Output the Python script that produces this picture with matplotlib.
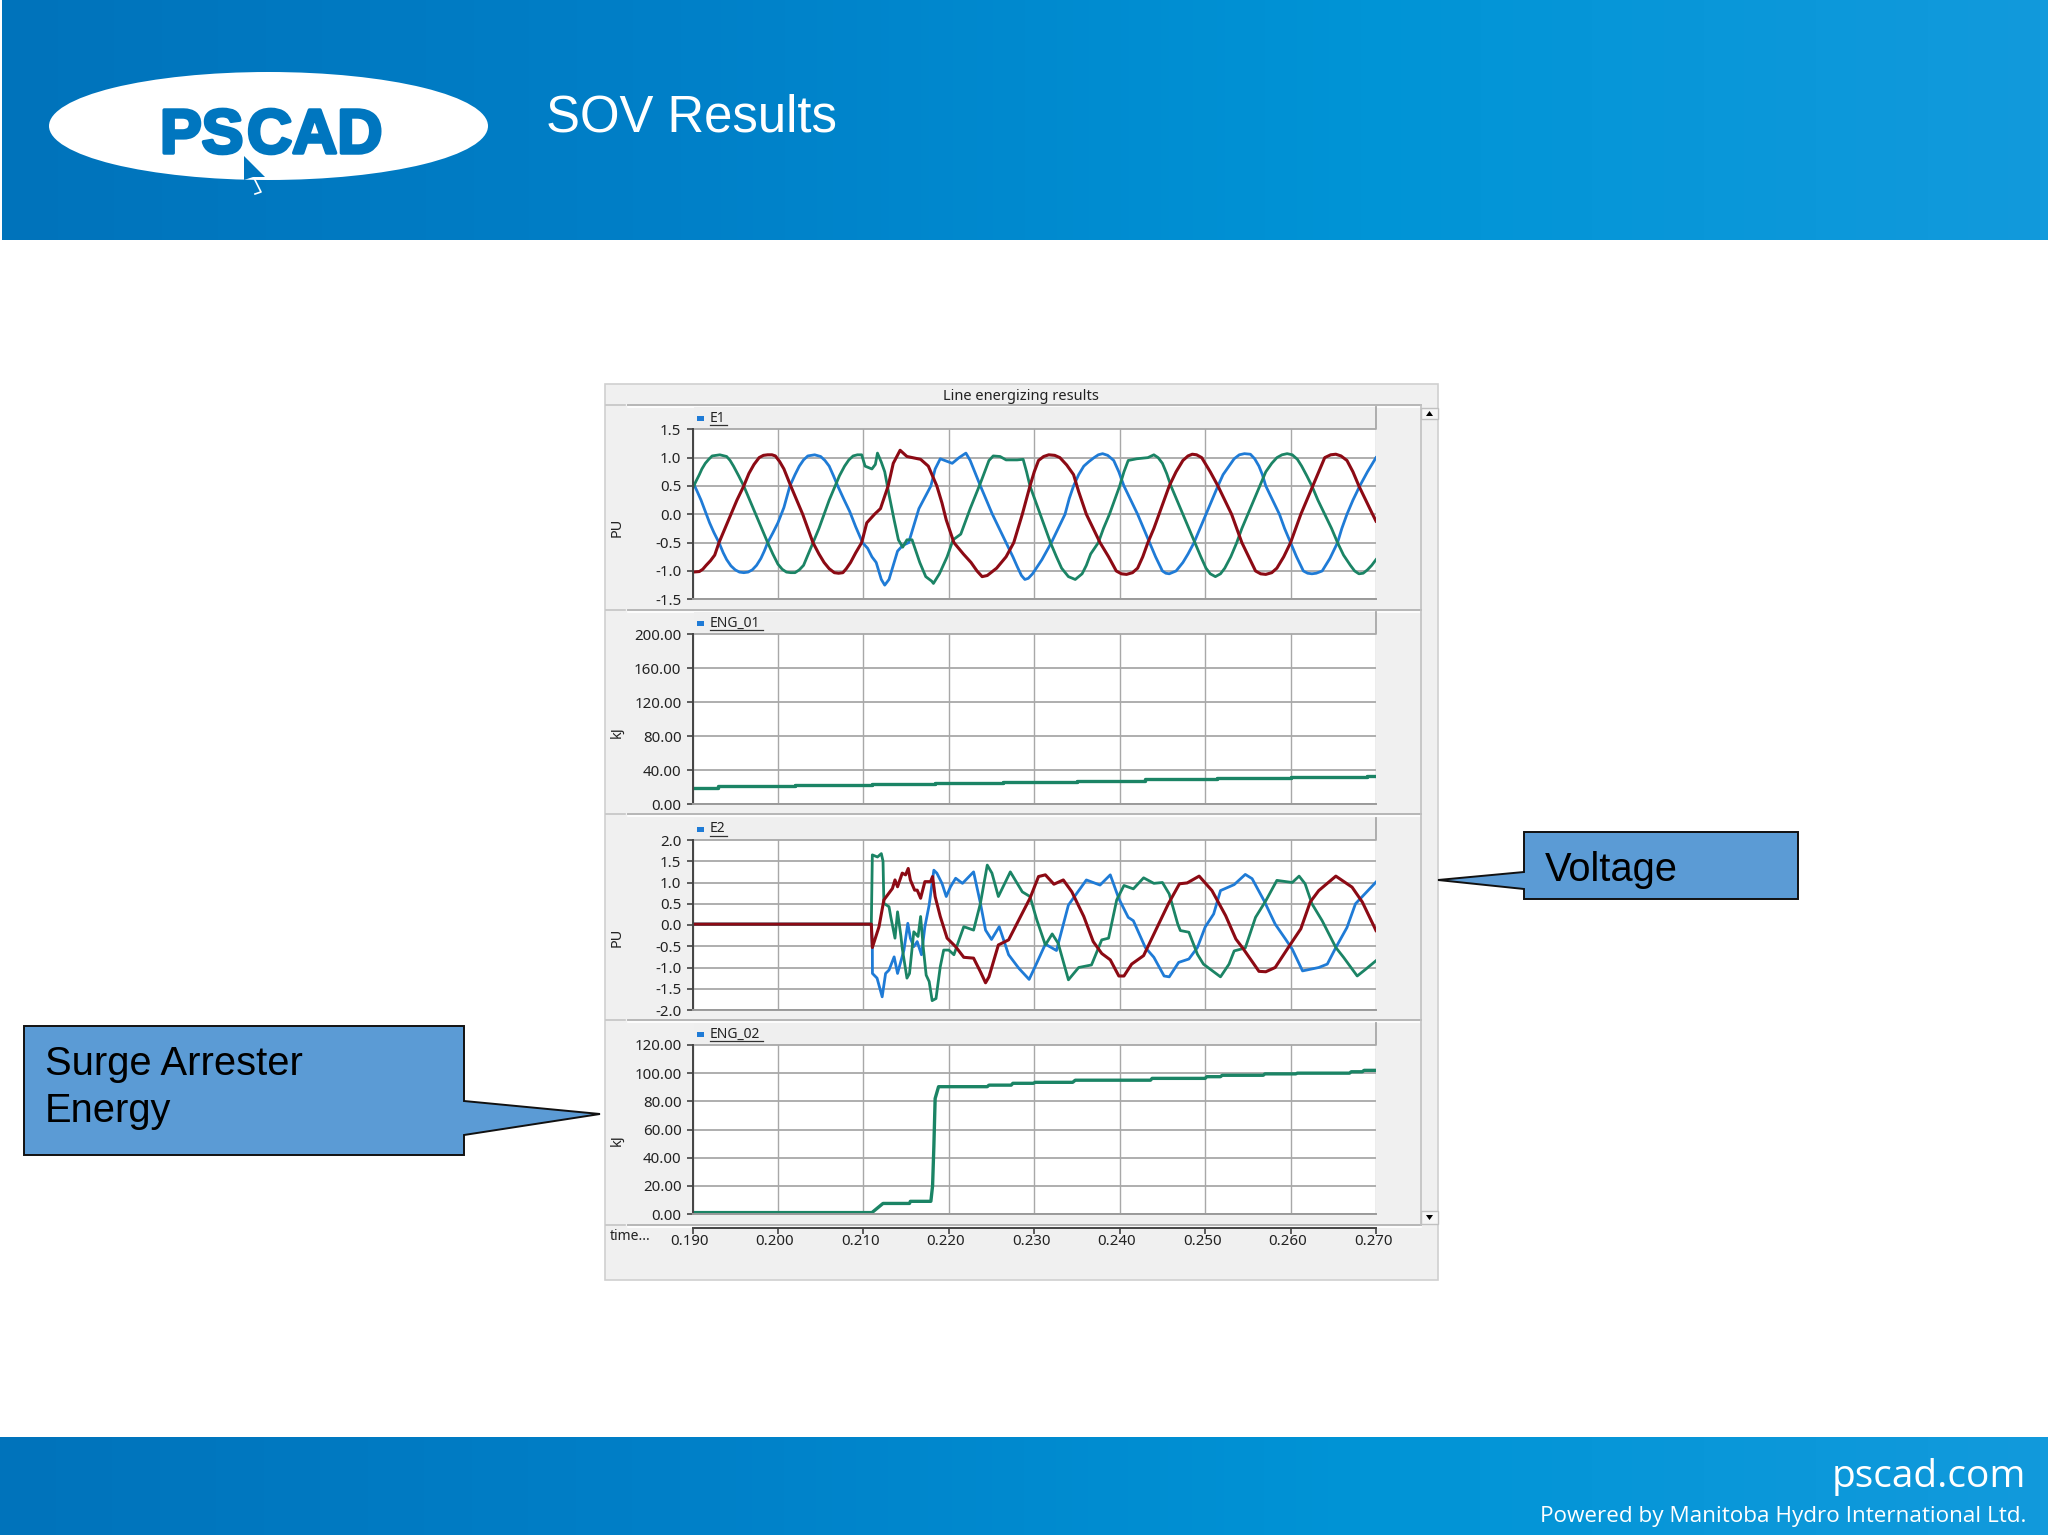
import numpy as np
import matplotlib
matplotlib.use("Agg")
import matplotlib.pyplot as plt
import matplotlib.patheffects as pe
from matplotlib.patches import Ellipse, Polygon, Rectangle
from matplotlib.colors import LinearSegmentedColormap
from matplotlib.transforms import ScaledTranslation

W, H = 2048, 1536

# ---- data (time in ms) ----
e1_blue_t = [190, 190.5, 191, 191.5, 192, 192.5, 193.1, 193.6, 194, 194.5, 195, 195.5, 196, 196.5, 197, 197.5, 198, 198.4, 198.8, 199.4, 200, 200.7, 201.4, 202, 202.5, 203, 203.5, 204.3, 205, 205.5, 206, 206.5, 207, 207.7, 208.4, 209.1, 209.9, 210.5, 211, 211.5, 212.1, 212.5, 213, 213.5, 214, 214.6, 215.3, 215.9, 216.5, 217.2, 217.9, 218.4, 219, 220.4, 221.2, 222, 222.5, 222.9, 223.7, 224.4, 225.1, 225.9, 226.7, 227.5, 228, 228.5, 228.9, 229.3, 229.8, 230.9, 232, 232.8, 233.6, 234.1, 234.6, 235.2, 235.8, 236.4, 237, 237.5, 238, 238.6, 239.3, 239.9, 240.5, 241.3, 242.1, 242.8, 243.5, 244.2, 245, 245.4, 245.8, 246.6, 247.4, 248, 248.7, 249.4, 250.1, 250.8, 251.5, 252.1, 252.8, 253.4, 254, 254.6, 255.3, 255.8, 256.3, 256.7, 257.1, 257.9, 258.7, 259.3, 260, 260.7, 261.5, 262, 262.5, 263, 263.7, 264.6, 265.5, 266, 266.6, 267.3, 268.1, 269, 270]
e1_blue_v = [0.58, 0.42, 0.25, 0.05, -0.15, -0.32, -0.5, -0.68, -0.8, -0.91, -0.98, -1.02, -1.03, -1.02, -0.98, -0.9, -0.78, -0.65, -0.5, -0.33, -0.15, 0.12, 0.5, 0.7, 0.85, 0.96, 1.03, 1.05, 1.02, 0.95, 0.85, 0.68, 0.5, 0.27, 0.05, -0.22, -0.5, -0.6, -0.75, -0.85, -1.15, -1.25, -1.15, -0.9, -0.65, -0.55, -0.5, -0.2, 0.1, 0.3, 0.5, 0.8, 0.98, 0.9, 1.0, 1.08, 0.95, 0.8, 0.5, 0.25, 0.0, -0.25, -0.5, -0.75, -0.92, -1.08, -1.15, -1.13, -1.05, -0.8, -0.5, -0.25, 0.0, 0.28, 0.5, 0.7, 0.85, 0.93, 1.0, 1.05, 1.07, 1.04, 0.95, 0.75, 0.5, 0.25, 0.0, -0.25, -0.5, -0.75, -1.0, -1.04, -1.05, -1.0, -0.85, -0.7, -0.5, -0.25, 0.0, 0.25, 0.5, 0.7, 0.85, 0.98, 1.05, 1.07, 1.06, 0.98, 0.85, 0.7, 0.5, 0.25, 0.0, -0.25, -0.5, -0.75, -1.0, -1.04, -1.05, -1.04, -1.0, -0.78, -0.5, -0.25, 0.0, 0.25, 0.5, 0.75, 1.0]
e1_green_t = [190, 190.4, 190.8, 191.1, 191.5, 191.9, 192.3, 193.2, 194, 194.4, 194.8, 195.4, 196, 196.7, 197.4, 198.1, 198.8, 199.4, 200, 200.5, 201, 201.5, 202, 202.5, 203, 203.5, 204.1, 204.8, 205.4, 206, 206.7, 207.2, 207.8, 208.3, 208.8, 209.3, 209.8, 210.2, 210.7, 211, 211.4, 211.65, 212.1, 212.5, 213, 213.6, 214.1, 214.6, 215.1, 215.7, 216.6, 217.3, 218, 218.2, 218.9, 219.8, 220.5, 221.4, 222.5, 223.7, 224.7, 225.2, 226, 226.7, 228, 228.7, 229.1, 229.5, 230.1, 230.7, 231.3, 231.9, 232.6, 233.2, 234, 234.8, 235.6, 236.1, 236.6, 237.5, 238.1, 238.8, 239.4, 240, 240.5, 241, 242, 243.3, 244, 244.5, 245, 245.5, 246, 246.7, 247.4, 248.1, 248.8, 249.5, 250.1, 250.6, 251.2, 251.8, 252.3, 253, 253.7, 254.3, 255, 255.7, 256.4, 257.1, 257.8, 258.4, 259, 259.6, 260.2, 260.8, 261.3, 261.9, 262.5, 263.2, 264, 264.8, 265.5, 266.2, 267, 267.5, 268, 268.5, 269, 269.5, 270]
e1_green_v = [0.45, 0.58, 0.7, 0.8, 0.9, 0.97, 1.03, 1.05, 1.02, 0.95, 0.85, 0.68, 0.5, 0.25, 0.0, -0.25, -0.5, -0.7, -0.88, -0.97, -1.02, -1.03, -1.03, -0.98, -0.9, -0.72, -0.5, -0.25, 0.0, 0.25, 0.5, 0.68, 0.85, 0.96, 1.03, 1.05, 1.05, 0.85, 0.82, 0.8, 0.88, 1.08, 0.92, 0.75, 0.35, -0.1, -0.45, -0.58, -0.45, -0.45, -0.85, -1.1, -1.18, -1.22, -1.05, -0.75, -0.45, -0.35, 0.1, 0.55, 0.95, 1.03, 1.02, 0.96, 0.96, 0.97, 0.75, 0.5, 0.25, 0.0, -0.25, -0.5, -0.75, -0.95, -1.1, -1.15, -1.05, -0.9, -0.7, -0.5, -0.25, 0.0, 0.25, 0.5, 0.75, 0.95, 0.98, 1.0, 1.05, 1.0, 0.9, 0.72, 0.5, 0.25, 0.0, -0.25, -0.5, -0.75, -0.95, -1.05, -1.1, -1.05, -0.95, -0.75, -0.5, -0.25, 0.0, 0.25, 0.5, 0.75, 0.9, 1.0, 1.05, 1.07, 1.05, 0.97, 0.85, 0.68, 0.5, 0.25, 0.0, -0.25, -0.5, -0.72, -0.9, -1.0, -1.05, -1.04, -0.98, -0.9, -0.8]
e1_red_t = [190, 190.8, 191.2, 191.6, 192.1, 192.6, 193.1, 193.8, 194.5, 195.2, 196, 196.6, 197.2, 197.8, 198.3, 198.8, 199.3, 199.7, 200.2, 200.7, 201.5, 202.2, 202.9, 203.5, 204.1, 204.8, 205.4, 206, 206.6, 207.1, 207.6, 208, 208.5, 209.1, 209.8, 210.4, 211.3, 212, 212.9, 213.5, 214.3, 215.1, 216.7, 217.6, 218.6, 219.2, 219.7, 220.6, 221.7, 222.6, 223.3, 223.9, 224.5, 225.6, 226.7, 227.6, 228.6, 229.5, 230, 230.5, 231.1, 231.7, 232.4, 233, 233.8, 234.6, 235.2, 236.1, 236.9, 237.7, 238.7, 239.6, 240.2, 240.8, 241.5, 242.1, 242.7, 243.3, 244, 244.6, 245.2, 245.8, 246.6, 247.4, 248, 248.5, 249, 249.6, 250.6, 251.5, 252.3, 253.1, 253.7, 254.3, 255.1, 255.9, 256.5, 257.1, 257.8, 258.4, 259.2, 260, 260.6, 261.2, 261.9, 262.6, 263.3, 264, 264.7, 265.3, 265.9, 266.6, 267.3, 268, 268.8, 269.6, 270]
e1_red_v = [-1.02, -1.01, -0.97, -0.9, -0.82, -0.72, -0.5, -0.25, 0.0, 0.25, 0.5, 0.72, 0.88, 1.0, 1.04, 1.05, 1.05, 1.03, 0.93, 0.8, 0.5, 0.25, 0.0, -0.25, -0.5, -0.7, -0.85, -0.96, -1.03, -1.04, -1.03, -0.96, -0.85, -0.68, -0.5, -0.15, 0.0, 0.1, 0.5, 0.9, 1.13, 1.02, 0.97, 0.85, 0.5, 0.2, -0.1, -0.5, -0.7, -0.85, -1.0, -1.1, -1.08, -0.95, -0.75, -0.5, 0.0, 0.5, 0.75, 0.95, 1.02, 1.05, 1.04, 1.0, 0.87, 0.7, 0.4, 0.0, -0.25, -0.5, -0.75, -1.0, -1.05, -1.06, -1.03, -0.95, -0.75, -0.5, -0.25, 0.0, 0.25, 0.5, 0.75, 0.95, 1.03, 1.06, 1.05, 1.0, 0.75, 0.5, 0.25, 0.0, -0.25, -0.5, -0.75, -1.0, -1.05, -1.06, -1.03, -0.95, -0.75, -0.5, -0.25, 0.0, 0.25, 0.5, 0.75, 1.0, 1.05, 1.06, 1.03, 0.95, 0.75, 0.5, 0.25, 0.0, -0.12]

eng1_t = [190, 193, 202, 211, 218.4, 226.3, 235, 243, 251.4, 260, 269, 270]
eng1_v = [19.6, 21, 22.3, 24, 25, 26.3, 27.5, 29.8, 31.3, 32, 33.7, 33.7]

e2_blue_t = [190, 210.93, 211.05, 211.06, 211.6, 212.2, 212.6, 213, 213.6, 214, 214.75, 215.2, 215.5, 215.9, 216.3, 216.8, 217.2, 217.7, 218.25, 218.6, 219.2, 219.7, 220.2, 220.8, 221.6, 222.9, 223.7, 224.3, 225, 225.9, 227, 228.2, 229.4, 230.1, 231.3, 232.6, 234, 236.1, 237.7, 238.9, 239.9, 241, 241.6, 243, 244, 245.2, 245.8, 246.9, 248.1, 249.1, 250, 251, 251.8, 253.4, 254.7, 255.5, 256.9, 258.2, 259.4, 260.2, 261.4, 263.3, 264.3, 265.3, 266.6, 267.6, 270]
e2_blue_v = [0.02, 0.02, -0.53, -1.14, -1.25, -1.69, -1.14, -1.06, -0.75, -1.14, -0.59, 0.04, -0.31, -0.51, -0.39, -0.7, -0.04, 0.47, 1.29, 1.22, 0.98, 0.67, 0.9, 1.1, 0.98, 1.25, 0.51, -0.12, -0.34, -0.04, -0.7, -1.02, -1.28, -0.98, -0.45, -0.6, 0.47, 1.06, 0.94, 1.18, 0.62, 0.18, 0.1, -0.53, -0.76, -1.2, -1.22, -0.88, -0.8, -0.53, -0.05, 0.26, 0.81, 0.95, 1.19, 1.09, 0.57, 0.02, -0.33, -0.57, -1.08, -1.0, -0.92, -0.53, -0.06, 0.5, 1.01]
e2_green_t = [190, 210.93, 211.05, 211.65, 212.1, 212.3, 212.4, 213, 213.2, 213.7, 214, 214.4, 214.55, 215.1, 215.4, 215.9, 216.4, 216.7, 217, 217.35, 217.7, 218.05, 218.5, 219, 219.4, 220, 220.6, 221.2, 221.75, 222.9, 223.7, 224.5, 225.05, 225.8, 227.2, 228.6, 229.5, 230.3, 231.3, 232.1, 232.8, 234, 235.2, 236.7, 237.9, 238.7, 239.65, 240.5, 241.6, 242.8, 244, 245, 245.8, 246.8, 247.1, 248.1, 249.1, 249.8, 251.8, 252.8, 253.4, 254.7, 255.9, 257.1, 258.4, 260.2, 261, 261.7, 262.5, 263.7, 265.3, 266.2, 267.8, 268.8, 270]
e2_green_v = [0.02, 0.02, 1.65, 1.6, 1.68, 1.5, 0.51, 0.43, 0.2, -0.31, 0.31, -0.27, -0.55, -1.25, -1.14, -0.16, -0.27, 0.2, -0.51, -1.18, -1.33, -1.78, -1.73, -0.98, -0.59, -0.59, -0.7, -0.35, -0.04, -0.12, 0.51, 1.41, 1.22, 0.67, 1.25, 0.78, 0.67, 0.12, -0.47, -0.21, -0.43, -1.29, -1.0, -0.94, -0.35, -0.31, 0.59, 0.93, 0.85, 1.11, 0.98, 1.0, 0.73, 0.02, -0.13, -0.17, -0.69, -0.92, -1.22, -0.92, -0.61, -0.54, 0.18, 0.57, 1.05, 1.0, 1.15, 0.97, 0.5, 0.1, -0.53, -0.76, -1.2, -1.04, -0.84]
e2_red_t = [190, 210.93, 211.05, 211.83, 212.4, 213.4, 213.7, 214, 214.55, 214.94, 215.25, 215.5, 216, 216.3, 216.7, 217.2, 217.86, 218.1, 218.4, 219, 219.8, 220.8, 221.75, 222.9, 223.7, 224.3, 224.7, 225.8, 227, 228.4, 229.5, 230.5, 231.3, 232.3, 233.4, 234.4, 235.8, 236.9, 237.9, 238.9, 239.9, 240.5, 241.4, 242.8, 244.2, 245.7, 247, 247.9, 249.3, 250.8, 252.4, 253.6, 254.5, 256.3, 257.1, 258.2, 259.8, 261.2, 262.3, 263.3, 265.3, 267.2, 268.4, 270]
e2_red_v = [0.02, 0.02, -0.53, -0.04, 0.59, 0.86, 1.06, 0.9, 1.22, 1.18, 1.33, 1.06, 0.82, 0.82, 0.63, 1.02, 1.02, 1.14, 0.67, 0.2, -0.31, -0.51, -0.76, -0.78, -1.1, -1.36, -1.22, -0.47, -0.35, 0.2, 0.63, 1.14, 1.18, 0.96, 1.06, 0.78, 0.2, -0.39, -0.67, -0.82, -1.2, -1.2, -0.92, -0.72, -0.13, 0.5, 0.97, 0.99, 1.15, 0.81, 0.22, -0.33, -0.57, -1.09, -1.1, -1.0, -0.51, -0.09, 0.54, 0.81, 1.15, 0.89, 0.54, -0.13]

eng2_t = [190, 211, 212.3, 215.4, 215.5, 217.9, 218.1, 218.25, 218.4, 218.8, 224.5, 224.7, 227.3, 227.5, 229.9, 230.1, 234.5, 234.8, 243.6, 243.8, 250, 250.2, 251.8, 252, 256.8, 257, 260.6, 260.8, 266.9, 267.1, 268.4, 268.6, 270]
eng2_v = [1, 1, 7.5, 7.5, 9, 9, 20, 48, 82, 90.4, 90.4, 91.5, 91.5, 92.8, 92.8, 93.5, 93.5, 95, 95, 96.3, 96.3, 97.5, 97.5, 98.5, 98.5, 99.5, 99.5, 100, 100, 101, 101, 102, 102]

time_ticks = [190, 200, 210, 220, 230, 240, 250, 260, 270]
time_labels = ["0.190", "0.200", "0.210", "0.220", "0.230", "0.240", "0.250", "0.260", "0.270"]
e1_ticks = [-1.5, -1.0, -0.5, 0.0, 0.5, 1.0, 1.5]
e2_ticks = [-2.0, -1.5, -1.0, -0.5, 0.0, 0.5, 1.0, 1.5, 2.0]
eng1_ticks = [0, 40, 80, 120, 160, 200]
eng2_ticks = [0, 20, 40, 60, 80, 100, 120]

BLUE = "#1f7bd6"
GREEN = "#1b8465"
RED = "#8c0a14"
LOGO = "#0076bf"
SANS = "Liberation Sans"
UI = "Noto Sans"
UI_TEXT = "#222222"


def px_axes(left, top, right, bottom, **kw):
    return fig.add_axes([left / W, 1 - bottom / H, (right - left) / W, (bottom - top) / H], **kw)


fig = plt.figure(figsize=(W / 100, H / 100), dpi=100, facecolor="white")

# full page layer in pixel coordinates, for the slide furniture
bg = px_axes(0, 0, W, H, zorder=0)
bg.axis("off")

band = LinearSegmentedColormap.from_list("band", ["#0073bb", "#0080c8", "#0094d6", "#129adc"])
ramp = np.linspace(0, 1, 512).reshape(1, -1)
bg.imshow(ramp, cmap=band, extent=(2, W, 240, 0), aspect="auto", zorder=1)
bg.imshow(ramp, cmap=band, extent=(0, W, 1535, 1437), aspect="auto", zorder=1)
bg.set_xlim(0, W)
bg.set_ylim(H, 0)

# logo
bg.add_patch(Ellipse((268.5, 126), 439, 108, fc="white", ec="none", zorder=2))
thick = [pe.withStroke(linewidth=2.5, foreground=LOGO)]
bg.text(160, 153, "PS", color=LOGO, fontsize=45, fontweight="bold", va="baseline",
        family=SANS, zorder=3, path_effects=thick)
bg.text(247, 153, "CAD", color=LOGO, fontsize=45, fontweight="bold", va="baseline",
        family=SANS, zorder=3, path_effects=thick)
bg.add_patch(Polygon([(244, 156), (244, 180), (253, 177), (265, 177)], fc=LOGO, ec="none", zorder=4))
bg.plot([254, 261, 255], [178, 192, 194], color="white", lw=1.2, zorder=4)
bg.text(546, 132, "SOV Results", color="white", fontsize=36.6, family=SANS, va="baseline", zorder=3)

bg.text(2026, 1487, "pscad.com", color="white", fontsize=28, family="Open Sans", ha="right", va="baseline", zorder=3)
bg.text(2026, 1522, "Powered by Manitoba Hydro International Ltd.", color="white", fontsize=16.2,
        family="Open Sans", ha="right", va="baseline", zorder=3)

# results window
bg.add_patch(Rectangle((605, 384), 833, 896, fc="#f0f0f0", ec="#d0d0d0", lw=1.2, zorder=2))
bg.text(1021, 396, "Line energizing results", color=UI_TEXT, fontsize=10.5, family=UI, ha="center", va="center", zorder=3)
for y in [405, 610, 814, 1020, 1225]:
    bg.plot([628, 1421], [y, y], color="#b6b6b6", lw=1.4, zorder=3)
    bg.plot([628, 1421], [y + 2, y + 2], color="white", lw=1.2, zorder=3)
    bg.plot([606, 625], [y, y], color="#c4c4c4", lw=1.2, zorder=3)

# scrollbar
bg.plot([1421, 1421], [405, 1225], color="#c0c0c0", lw=1.2, zorder=3)
bg.add_patch(Rectangle((1421, 408), 17, 11, fc="#f6f6f6", ec="#c0c0c0", lw=1, zorder=3))
bg.add_patch(Polygon([(1426, 416), (1433, 416), (1429.5, 411)], fc="black", ec="none", zorder=4))
bg.add_patch(Rectangle((1421, 1211), 17, 13, fc="#f6f6f6", ec="#c0c0c0", lw=1, zorder=3))
bg.add_patch(Polygon([(1426, 1215), (1433, 1215), (1429.5, 1220)], fc="black", ec="none", zorder=4))

# panel headers
headers = [("E1", 407, 429, 17, "PU", 527), ("ENG_01", 612, 634, 53, "kJ", 732),
           ("E2", 818, 840, 17, "PU", 937), ("ENG_02", 1023, 1045, 53, "kJ", 1140)]
for name, top, bottom, under, unit, unit_y in headers:
    bg.add_patch(Rectangle((693.7, top), 682, bottom - top, fc="#efefef", ec="none", zorder=3))
    bg.plot([1376, 1376, 693.7], [top, bottom, bottom], color="#a8a8a8", lw=1.3, zorder=3)
    bg.add_patch(Rectangle((697, top + 9), 7, 5, fc=BLUE, ec="none", zorder=4))
    bg.text(710, top + 11, name, color=UI_TEXT, fontsize=10, family=UI, va="center", zorder=4)
    bg.plot([710, 710 + under], [top + 18, top + 18], color="#333333", lw=0.9, zorder=4)
    bg.text(617, unit_y, unit, color=UI_TEXT, fontsize=10.5, family=UI, rotation=90, ha="center", va="center", zorder=4)

bg.text(610, 1236, "time...", color=UI_TEXT, fontsize=10, family=UI, va="center", zorder=4)

# callouts
bg.add_patch(Polygon([(1524, 832), (1798, 832), (1798, 899), (1524, 899), (1524, 889), (1438, 880), (1524, 872)],
                     fc="#5b9bd5", ec="#111111", lw=1.4, zorder=4))
bg.text(1545, 881, "Voltage", color="black", fontsize=28.7, family=SANS, va="baseline", zorder=5)
bg.add_patch(Polygon([(24, 1026), (464, 1026), (464, 1101), (600, 1114), (464, 1135), (464, 1155), (24, 1155)],
                     fc="#5b9bd5", ec="#111111", lw=1.4, zorder=4))
bg.text(45, 1075, "Surge Arrester", color="black", fontsize=28.7, family=SANS, va="baseline", zorder=5)
bg.text(45, 1122, "Energy", color="black", fontsize=28.7, family=SANS, va="baseline", zorder=5)


def panel(top, bottom, ylim, yticks, fmt):
    ax = px_axes(692.5, top, 1376, bottom, zorder=2)
    ax.set_xlim(190, 270)
    ax.set_ylim(*ylim)
    ax.set_xticks(time_ticks)
    ax.set_xticklabels([])
    ax.set_yticks(yticks)
    ax.set_yticklabels([fmt.format(v) for v in yticks], fontsize=10.8, family=UI, color=UI_TEXT)
    ax.grid(True, axis="y", color="#a8a8a8", lw=1.3)
    ax.grid(True, axis="x", color="#a8a8a8", lw=1.0)
    ax.set_axisbelow(True)
    ax.tick_params(axis="x", length=0)
    ax.tick_params(axis="y", length=4, width=1.2, color="#444444", pad=4)
    for side in ["top", "right"]:
        ax.spines[side].set_visible(False)
    ax.spines["left"].set_color("#444444")
    ax.spines["left"].set_linewidth(1.4)
    ax.spines["bottom"].set_color("#9a9a9a")
    ax.spines["bottom"].set_linewidth(1.4)
    return ax


ax1 = panel(429.3, 599.3, (-1.5, 1.5), e1_ticks, "{:.1f}")
ax1.plot(e1_blue_t, e1_blue_v, color=BLUE, lw=2.0, solid_joinstyle="round")
ax1.plot(e1_green_t, e1_green_v, color=GREEN, lw=2.0, solid_joinstyle="round")
ax1.plot(e1_red_t, e1_red_v, color=RED, lw=2.2, solid_joinstyle="round")

ax2 = panel(634.3, 804.3, (0, 200), eng1_ticks, "{:.2f}")
ax2.step(eng1_t, eng1_v, where="post", color=GREEN, lw=2.4)

ax3 = panel(840, 1010, (-2, 2), e2_ticks, "{:.1f}")
ax3.plot(e2_blue_t, e2_blue_v, color=BLUE, lw=2.0, solid_joinstyle="round")
ax3.plot(e2_green_t, e2_green_v, color=GREEN, lw=2.0, solid_joinstyle="round")
ax3.plot(e2_red_t, e2_red_v, color=RED, lw=2.2, solid_joinstyle="round")

ax4 = panel(1045, 1214, (0, 120), eng2_ticks, "{:.2f}")
ax4.plot(eng2_t, eng2_v, color=GREEN, lw=2.4)

# time axis under the last panel
tax = px_axes(692.5, 1227, 1376, 1228, zorder=2)
tax.set_xlim(190, 270)
tax.set_ylim(0, 1)
tax.patch.set_visible(False)
tax.set_yticks([])
tax.set_xticks(time_ticks)
tax.set_xticklabels(time_labels, fontsize=10.8, family=UI, color=UI_TEXT)
tax.tick_params(axis="x", length=4, width=1.2, color="#444444", pad=0)
shift = ScaledTranslation(-3 / 100, 0, fig.dpi_scale_trans)
for label in tax.get_xticklabels():
    label.set_transform(label.get_transform() + shift)
for side in ["top", "left", "right"]:
    tax.spines[side].set_visible(False)
tax.spines["bottom"].set_color("#444444")
tax.spines["bottom"].set_linewidth(1.4)

fig.savefig("out.png", dpi=100)
